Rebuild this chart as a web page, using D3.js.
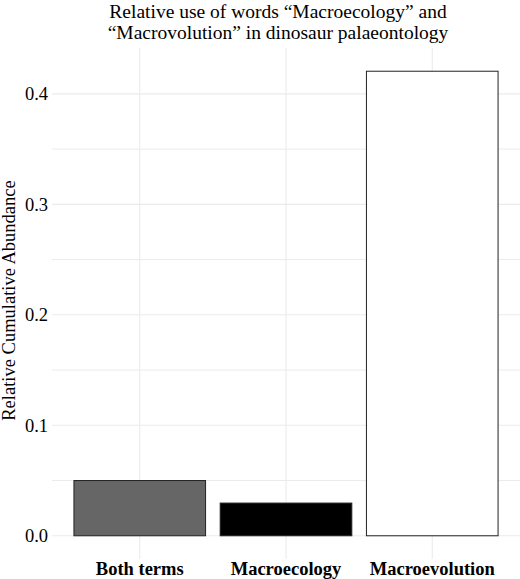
<!DOCTYPE html>
<html>
<head>
<meta charset="utf-8">
<script src="https://cdn.jsdelivr.net/npm/d3@7"></script>
<style>
  body { margin: 0; background: #fff; }
  text { font-family: "Liberation Serif", "Times New Roman", serif; }
</style>
</head>
<body>
<div id="chart"></div>
<script>
// data
const categories = ["Both terms", "Macroecology", "Macroevolution"];
const abundance = [0.050, 0.0296, 0.4205];
const fills = ["#666666", "#000000", "#ffffff"];
const yTicks = [0, 0.1, 0.2, 0.3, 0.4];
const yMinorTicks = [0.05, 0.15, 0.25, 0.35];
const titleLines = ["Relative use of words \u201cMacroecology\u201d and", "\u201cMacrovolution\u201d in dinosaur palaeontology"];

const W = 520, H = 579;
const panel = {left: 52, right: 520, top: 48, bottom: 559};

const svg = d3.select("#chart")
    .append("svg")
    .attr("width", W)
    .attr("height", H);

const maxV = d3.max(abundance);
const pad = maxV * 0.05;

const yScale = d3.scaleLinear()
    .domain([-pad, maxV + pad])
    .range([panel.bottom, panel.top]);

// ggplot style discrete axis: 0.6 units expansion each side
const xScale = d3.scaleBand()
    .domain(categories)
    .range([panel.left, panel.right])
    .paddingInner(0.1)
    .paddingOuter(0.15);

// grid
const grid = svg.append("g");
grid.selectAll("line.minor")
    .data(yMinorTicks)
    .enter().append("line")
    .attr("x1", panel.left).attr("x2", panel.right)
    .attr("y1", d => yScale(d)).attr("y2", d => yScale(d))
    .style("stroke", "#ebebeb").style("stroke-width", 1);
grid.selectAll("line.major")
    .data(yTicks)
    .enter().append("line")
    .attr("x1", panel.left).attr("x2", panel.right)
    .attr("y1", d => yScale(d)).attr("y2", d => yScale(d))
    .style("stroke", "#ebebeb").style("stroke-width", 1.1);
grid.selectAll("line.vert")
    .data(categories)
    .enter().append("line")
    .attr("x1", d => xScale(d) + xScale.bandwidth() / 2)
    .attr("x2", d => xScale(d) + xScale.bandwidth() / 2)
    .attr("y1", panel.top).attr("y2", panel.bottom)
    .style("stroke", "#ebebeb").style("stroke-width", 1.1);

// bars
svg.selectAll("rect.bar")
    .data(categories)
    .enter().append("rect")
    .attr("x", d => xScale(d))
    .attr("width", xScale.bandwidth())
    .attr("y", (d, i) => yScale(abundance[i]))
    .attr("height", (d, i) => yScale(0) - yScale(abundance[i]))
    .style("fill", (d, i) => fills[i])
    .style("stroke", "#222")
    .style("stroke-width", 1);

// y axis
const yAxis = svg.append("g")
    .attr("transform", `translate(${panel.left},0)`)
    .call(d3.axisLeft(yScale).tickValues(yTicks).tickFormat(d3.format(".1f")).tickSize(0).tickPadding(4));
yAxis.select(".domain").remove();
yAxis.selectAll("text")
    .style("font-size", "18.5px")
    .style("font-family", "Liberation Serif")
    .attr("fill", "#000");

// x axis
const xAxis = svg.append("g")
    .attr("transform", `translate(0,${panel.bottom})`)
    .call(d3.axisBottom(xScale).tickSize(0).tickPadding(3));
xAxis.select(".domain").remove();
xAxis.selectAll("text")
    .style("font-size", "18.5px")
    .style("font-weight", "bold")
    .style("font-family", "Liberation Serif")
    .attr("fill", "#000");

// y axis title
svg.append("text")
    .attr("transform", `translate(15,${(panel.top + panel.bottom) / 2 - 3}) rotate(-90)`)
    .attr("text-anchor", "middle")
    .style("font-size", "18.5px")
    .text("Relative Cumulative Abundance");

// title
svg.append("text")
    .attr("text-anchor", "middle")
    .style("font-size", "19.5px")
    .selectAll("tspan")
    .data(titleLines)
    .enter().append("tspan")
    .attr("x", 278)
    .attr("y", (d, i) => 18 + i * 21)
    .text(d => d);
</script>
</body>
</html>
